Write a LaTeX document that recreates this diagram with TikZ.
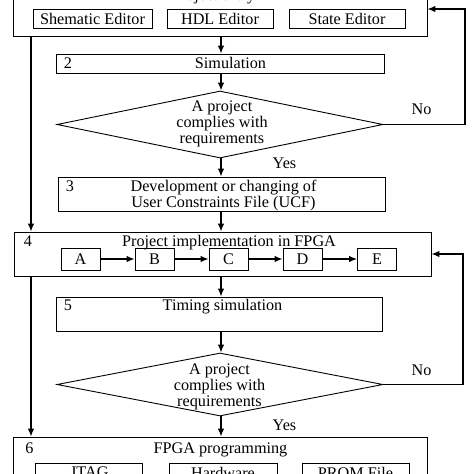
\documentclass[tikz,border=0pt]{standalone}
\usepackage{fontspec}
\setmainfont{Liberation Serif}
\usetikzlibrary{arrows.meta,shapes.geometric}
\newcommand\flowfont{\fontsize{16.2}{16}\selectfont}

\begin{document}
\begin{tikzpicture}[x=1pt,y=-1pt,
		box/.style={draw, line width=0.9pt, inner sep=0pt, font=\flowfont},
		decision/.style={draw, diamond, line width=0.9pt, inner sep=0pt},
		flow/.style={line width=1.2pt, -{Latex[length=8pt,width=6.5pt]}},
		txt/.style={inner sep=0pt, font=\flowfont, align=center}]
		%%%%% START %%%%%
		\useasboundingbox (0,0) rectangle (474,474);
		
		% 1 - entry
		\node[box, minimum width=414, minimum height=54] (entry) at (220,9) {};
		\node[txt, anchor=base] (entrytitle) at (213.6,0) {Project entry};
		\node[box, minimum width=119, minimum height=19] (shem) at (92.5,18.5) {Shematic Editor};
		\node[box, minimum width=106, minimum height=19] (hdl) at (220,18.5) {HDL Editor};
		\node[box, minimum width=116, minimum height=19] (state) at (347,18.5) {State Editor};
		
		% 2 - simulation
		\node[box, minimum width=328, minimum height=19] (sim) at (220,63.5) {};
		\node[txt, anchor=base] (n2) at (68,68) {2};
		\node[txt, anchor=base] (simtext) at (230.5,68) {Simulation};
		
		\node[decision, minimum width=326, minimum height=67] (dec1) at (220,124.5) {};
		\node[txt, anchor=north] (dec1text) at (222,100.4) {A project\\complies with\\requirements};
		\node[txt, anchor=base] (yes1) at (284.5,168) {Yes};
		\node[txt, anchor=base] (no1) at (421.5,114) {No};
		
		% 3 - constraints
		\node[box, minimum width=327, minimum height=34] (ucf) at (221.5,194) {};
		\node[txt, anchor=base] (n3) at (70,191) {3};
		\node[txt, anchor=north] (ucftext) at (223.5,179.9) {Development or changing of\\User Constraints File (UCF)};
		
		% 4 - implementation
		\node[box, minimum width=417, minimum height=44] (impl) at (222.5,254) {};
		\node[txt, anchor=base] (n4) at (28,246) {4};
		\node[txt, anchor=base] (impltitle) at (229,246) {Project implementation in FPGA};
		\foreach \name/\lbl/\xx in {a/A/80.5, b/B/154.5, c/C/228.5, d/D/302.5, e/E/377}
			\node[box, minimum width=39, minimum height=22] (\name) at (\xx,259) {\lbl};
		\foreach \u/\v in {a/b, b/c, c/d, d/e}
			\draw[flow] (\u) -- (\v);
		
		% 5 - timing
		\node[box, minimum width=326, minimum height=34] (timing) at (219,314) {};
		\node[txt, anchor=base] (n5) at (68,310) {5};
		\node[txt, anchor=base] (timingtitle) at (222.5,310) {Timing simulation};
		
		\node[decision, minimum width=326, minimum height=63] (dec2) at (220,384.5) {};
		\node[txt, anchor=north] (dec2text) at (219.5,363.2) {A project\\complies with\\requirements};
		\node[txt, anchor=base] (yes2) at (284.5,430) {Yes};
		\node[txt, anchor=base] (no2) at (421.5,375) {No};
		
		% 6 - programming
		\node[box, minimum width=414, minimum height=62] (prog) at (220.8,468) {};
		\node[txt, anchor=base] (n6) at (29.5,453) {6};
		\node[txt, anchor=base] (progtitle) at (220.5,453) {FPGA programming};
		\node[box, minimum width=107, minimum height=19] (jtag) at (89.3,472.5) {JTAG};
		\node[box, minimum width=108, minimum height=19] (hard) at (223,472.5) {Hardware};
		\node[box, minimum width=107, minimum height=19] (prom) at (355.5,472.5) {PROM File};
		
		% connectors
		\coordinate (midx) at (221,0);
		\coordinate (leftx) at (31,0);
		\coordinate (fbtop) at (465,9);
		\coordinate (fbmid) at (463,254);
		\draw[flow] (entry.south -| midx) -- (sim.north -| midx);
		\draw[flow] (sim.south -| midx) -- (dec1.north -| midx);
		\draw[flow] (dec1.south -| midx) -- (ucf.north -| midx);
		\draw[flow] (ucf.south -| midx) -- (impl.north -| midx);
		\draw[flow] (impl.south -| midx) -- (timing.north -| midx);
		\draw[flow] (timing.south -| midx) -- (dec2.north -| midx);
		\draw[flow] (dec2.south -| midx) -- (prog.north -| midx);
		\draw[flow] (entry.south -| leftx) -- (impl.north -| leftx);
		\draw[flow] (impl.south -| leftx) -- (prog.north -| leftx);
		\draw[flow] (dec1.east) -| (fbtop) -- (entry.east);
		\draw[flow] (dec2.east) -| (fbmid) -- (impl.east);
		%%%%% END %%%%%
	\end{tikzpicture}
\end{document}
